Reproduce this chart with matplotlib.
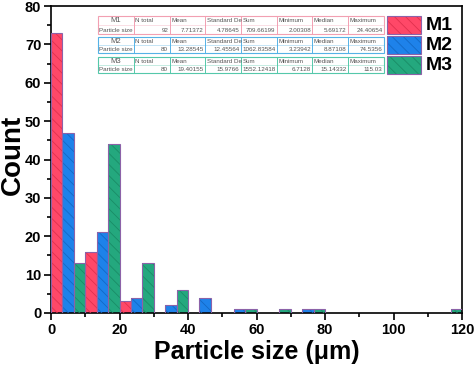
import matplotlib
matplotlib.use("Agg")
import matplotlib.pyplot as plt
import numpy as np
from matplotlib.patches import Rectangle
from matplotlib.transforms import Affine2D
from matplotlib.ticker import MultipleLocator

plt.rcParams['font.family'] = ['Liberation Sans', 'DejaVu Sans']
plt.rcParams['hatch.linewidth'] = 0.6

# ---- data ----
bin_left = [0, 10, 20, 30, 40, 50, 60, 70, 80, 90, 100, 110]
bin_width = 10
series_names = ["M1", "M2", "M3"]
m1_counts = [73, 16, 3, 0, 0, 0, 0, 0, 0, 0, 0, 0]
m2_counts = [47, 21, 4, 2, 4, 1, 0, 1, 0, 0, 0, 0]
m3_counts = [13, 44, 13, 6, 0, 1, 1, 1, 0, 0, 0, 1]
table_header = ["N total", "Mean", "Standard De", "Sum", "Minimum", "Median", "Maximum"]
m1_stats = ["92", "7.71372", "4.78645", "709.66199", "2.00308", "5.69172", "24.40654"]
m2_stats = ["80", "13.28545", "12.45564", "1062.83584", "3.23942", "8.87108", "74.5356"]
m3_stats = ["80", "19.40155", "15.9766", "1552.12418", "6.7128", "15.14332", "115.03"]

face_colors = ["#FF4868", "#1E82EA", "#24A87E"]
hatch_colors = ["#E0304E", "#1468C4", "#1A8C66"]
table_colors = ["#F2A0B2", "#55B2E6", "#55C8AA"]
edge_color = "#8C62A8"

W, H = 474, 367
fig = plt.figure(figsize=(W / 100, H / 100), dpi=100)
ax = fig.add_axes([51 / W, 1 - 313 / H, 411 / W, 307 / H])

series = [m1_counts, m2_counts, m3_counts]
sub_w = bin_width / 3
for k, counts in enumerate(series):
    xs = [b + k * sub_w for b, c in zip(bin_left, counts) if c > 0]
    hs = [c for c in counts if c > 0]
    ax.bar(xs, hs, width=sub_w, align='edge', color=face_colors[k], linewidth=0, zorder=2)
    ax.bar(xs, hs, width=sub_w, align='edge', fill=False, hatch='\\\\\\',
           edgecolor=hatch_colors[k], linewidth=0, zorder=3)
    ax.bar(xs, hs, width=sub_w, align='edge', fill=False, edgecolor=edge_color,
           linewidth=0.8, zorder=4)

ax.set_xlim(0, 120)
ax.set_ylim(0, 80)
ax.xaxis.set_major_locator(MultipleLocator(20))
ax.xaxis.set_minor_locator(MultipleLocator(10))
ax.yaxis.set_major_locator(MultipleLocator(10))
ax.yaxis.set_minor_locator(MultipleLocator(5))
ax.tick_params(which='both', direction='out', width=1.2, top=False, right=False)
ax.tick_params(which='major', length=5, labelsize=10.5, pad=2)
ax.tick_params(which='minor', length=3)
for lab in ax.get_xticklabels() + ax.get_yticklabels():
    lab.set_fontweight('bold')
for sp in ax.spines.values():
    sp.set_linewidth(1.2)
ax.set_xlabel("Particle size (μm)", fontsize=18, fontweight='bold')
ax.xaxis.set_label_coords(0.5, -(352 - 313) / 307)
ax.xaxis.label.set_va('center')
ax.set_ylabel("Count", fontsize=20, fontweight='bold')
ax.yaxis.set_label_coords(-(51 - 13) / 411, (313 - 155) / 307)
ax.yaxis.label.set_va('center')
ax.yaxis.label.set_ha('center')

# ---- stats tables (figure pixel coordinates) ----
pix = Affine2D().scale(1 / W, -1 / H).translate(0, 1) + fig.transFigure
cols = [98, 134, 169.7, 205.4, 241, 276.8, 312.5, 348, 384]
rows_y = [(16, 25, 34), (37, 45, 53), (57, 65, 73)]
stats = [m1_stats, m2_stats, m3_stats]
txtc = "#555555"
for k in range(3):
    top, mid, bot = rows_y[k]
    c = table_colors[k]
    fig.patches.append(Rectangle((cols[0], top), cols[-1] - cols[0], bot - top,
                                 transform=pix, facecolor='white', edgecolor=c,
                                 linewidth=0.8, zorder=5))
    fig.lines.append(plt.Line2D([cols[0], cols[-1]], [mid, mid], transform=pix,
                                color=c, linewidth=0.4, alpha=0.6, zorder=6))
    for x in cols[1:-1]:
        fig.lines.append(plt.Line2D([x, x], [top, bot], transform=pix,
                                    color=c, linewidth=0.7, zorder=6))
    fig.text((cols[0] + cols[1]) / 2, (top + mid) / 2 + 0.5, series_names[k],
             transform=pix, ha='center', va='center', fontsize=5.5, color=txtc, zorder=7)
    fig.text((cols[0] + cols[1]) / 2, (mid + bot) / 2 + 0.5, "Particle size",
             transform=pix, ha='center', va='center', fontsize=4.5, color=txtc, zorder=7)
    for j in range(7):
        fig.text(cols[j + 1] + 1.5, (top + mid) / 2 + 0.5, table_header[j], transform=pix,
                 ha='left', va='center', fontsize=4.5, color=txtc, zorder=7)
        fig.text(cols[j + 2] - 1.5, (mid + bot) / 2 + 0.5, stats[k][j], transform=pix,
                 ha='right', va='center', fontsize=4.5, color=txtc, zorder=7)

# ---- legend ----
leg_y = [16, 36, 56]
for k in range(3):
    y0 = leg_y[k]
    fig.patches.append(Rectangle((387, y0), 34, 18, transform=pix, facecolor=face_colors[k],
                                 edgecolor='none', zorder=5))
    fig.patches.append(Rectangle((387, y0), 34, 18, transform=pix, fill=False,
                                 hatch='\\\\\\', edgecolor=hatch_colors[k], linewidth=0, zorder=6))
    fig.patches.append(Rectangle((387, y0), 34, 18, transform=pix, fill=False,
                                 edgecolor=edge_color, linewidth=0.8, zorder=7))
    fig.text(426, y0 + 9.5, series_names[k], transform=pix, ha='left', va='center',
             fontsize=14, fontweight='bold', color='black', zorder=7)

fig.savefig("out.png", dpi=100)
